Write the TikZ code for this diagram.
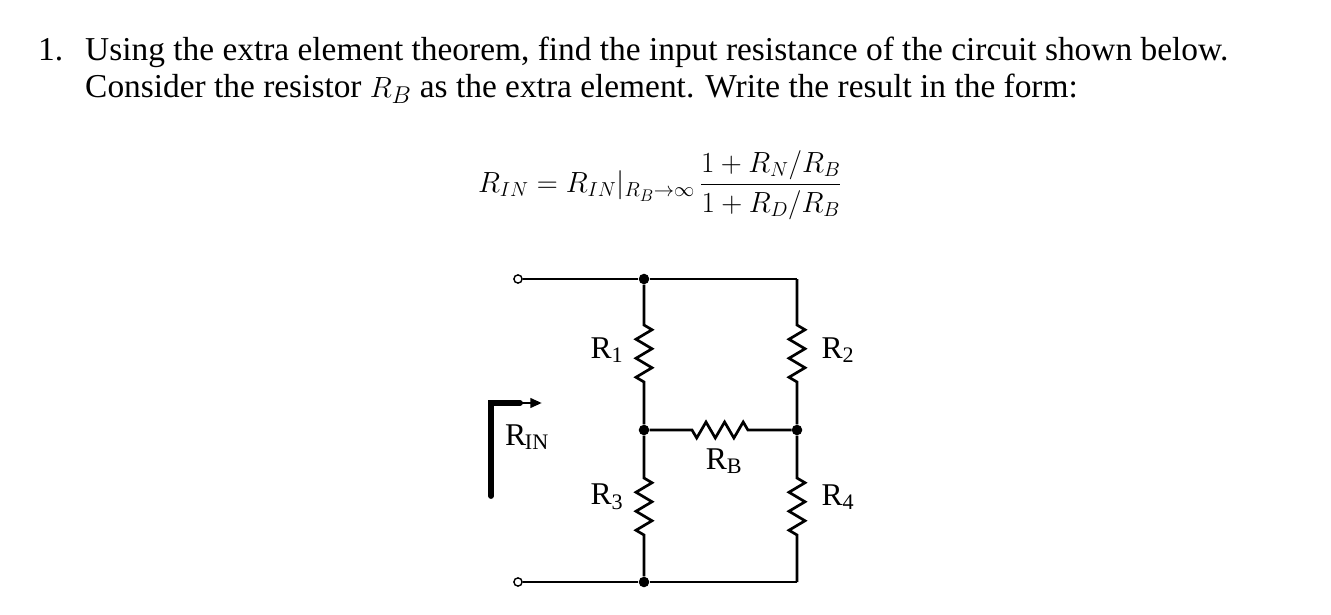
\documentclass[tikz,border=0pt]{standalone}
\usepackage{fontspec}
\setmainfont{Liberation Serif}
\usepackage{amsmath}
\usetikzlibrary{arrows.meta}
\begin{document}
\begin{tikzpicture}[x=0.03cm,y=-0.03cm,
  wire/.style={line width=2.3pt},
  dot/.style={circle,fill,inner sep=0pt,minimum size=9pt},
  term/.style={circle,draw,fill=white,inner sep=0pt,minimum size=7pt,line width=1.2pt},
  txt/.style={font=\fontsize{28.5}{33}\selectfont,inner sep=0pt,anchor=base west},
  lbl/.style={font=\fontsize{27}{30}\selectfont,inner sep=0pt}]
\useasboundingbox (0,0) rectangle (1331,615);
\node[txt] (n1) at (38,60) {1.};
\node[txt] (l1) at (85,60) {Using the extra element theorem, find the input resistance of the circuit shown below.};
\node[txt] (l2) at (85,97) {Consider the resistor \(R_B\) as the extra element. Write the result in the form:};
\node[inner sep=0pt,font=\fontsize{27}{30}\selectfont] (eq) at (660,185) {$\displaystyle R_{IN}=R_{IN}\rvert_{R_B\to\infty}\,\frac{1+R_N/R_B}{1+R_D/R_B}$};
% nodes
\node[term] (tA) at (518,279) {};
\node[term] (tB) at (518,582) {};
\node[dot] (a) at (644,279) {};
\node[dot] (m) at (644,430) {};
\node[dot] (b) at (644,582) {};
\coordinate (c) at (797,279);
\node[dot] (n) at (797,430) {};
\coordinate (d) at (797,582);
\draw[wire] (tA) -- (a) -- (c);
\draw[wire] (tB) -- (b) -- (d);
\draw[wire] (a) -- (644,325) -- ++(8,4.75) -- ++(-16,9.5) -- ++(16,9.5) -- ++(-16,9.5) -- ++(16,9.5) -- ++(-16,9.5) -- ++(8,4.75) -- (m);
\draw[wire] (m) -- (644,478) -- ++(8,4.75) -- ++(-16,9.5) -- ++(16,9.5) -- ++(-16,9.5) -- ++(16,9.5) -- ++(-16,9.5) -- ++(8,4.75) -- (b);
\draw[wire] (c) -- (797,325) -- ++(8,4.75) -- ++(-16,9.5) -- ++(16,9.5) -- ++(-16,9.5) -- ++(16,9.5) -- ++(-16,9.5) -- ++(8,4.75) -- (n);
\draw[wire] (n) -- (797,478) -- ++(8,4.75) -- ++(-16,9.5) -- ++(16,9.5) -- ++(-16,9.5) -- ++(16,9.5) -- ++(-16,9.5) -- ++(8,4.75) -- (d);
\draw[wire] (m) -- (692,430) -- ++(4.7,8) -- ++(9.3,-16) -- ++(9.3,16) -- ++(9.3,-16) -- ++(9.3,16) -- ++(9.3,-16) -- ++(4.7,8) -- (n);
\node[lbl] (r1) at (607,350) {R\textsubscript{1}};
\node[lbl] (r2) at (838,350) {R\textsubscript{2}};
\node[lbl] (r3) at (607,497) {R\textsubscript{3}};
\node[lbl] (r4) at (838,497) {R\textsubscript{4}};
\node[lbl] (rb) at (724,461) {R\textsubscript{B}};
\node[lbl] (rin) at (527,437) {R\textsubscript{\kern-1pt IN}};
\coordinate (p0) at (491,496);
\coordinate (p1) at (491,403);
\coordinate (p2) at (542,403);
\draw[line width=5pt,line cap=round] (p0) -- (p1) -- (520,403);
\draw[line width=2.5pt,-{Triangle[length=10pt,width=8pt]}] (516,403) -- (p2);
\end{tikzpicture}
\end{document}
